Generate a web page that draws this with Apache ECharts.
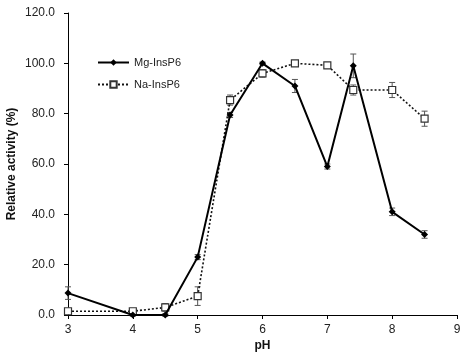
<!DOCTYPE html>
<html>
<head>
<meta charset="utf-8">
<script src="https://cdn.jsdelivr.net/npm/echarts@6/dist/echarts.min.js"></script>
<style>html,body{margin:0;padding:0;background:#fff}#c{width:474px;height:356px}</style>
</head>
<body>
<div id="c"></div>
<script>
var ph = [3, 4, 4.5, 5, 5.5, 6, 6.5, 7, 7.4, 8, 8.5];
var mgValues = [8.7, 0, 0, 23, 79.5, 100, 91, 59, 99, 41, 32];
var mgErrors = [2.5, 0.5, 0.5, 1, 1, 0.5, 2.6, 1, 4.7, 1.5, 1.5];
var naValues = [1.5, 1.5, 3, 7.5, 85.4, 96, 100, 99.2, 89.4, 89.4, 78];
var naErrors = [0.5, 0.5, 1.5, 3.7, 2, 1.5, 0.5, 0.5, 2, 3, 3];
var yTicks = [0, 20, 40, 60, 80, 100, 120];
var xTicks = [3, 4, 5, 6, 7, 8, 9];

var font = 'Liberation Sans, Arial, sans-serif';

function pairs(xs, ys) { return xs.map(function (x, i) { return [x, ys[i]]; }); }
function errData(xs, ys, es) { return xs.map(function (x, i) { return [x, ys[i] - es[i], ys[i] + es[i]]; }); }

function errRender(params, api) {
  var x = api.value(0);
  var lo = api.coord([x, api.value(1)]);
  var hi = api.coord([x, api.value(2)]);
  var w = 3;
  var st = { stroke: '#555', lineWidth: 1 };
  return {
    type: 'group',
    children: [
      { type: 'line', shape: { x1: lo[0], y1: lo[1], x2: hi[0], y2: hi[1] }, style: st },
      { type: 'line', shape: { x1: lo[0] - w, y1: lo[1], x2: lo[0] + w, y2: lo[1] }, style: st },
      { type: 'line', shape: { x1: hi[0] - w, y1: hi[1], x2: hi[0] + w, y2: hi[1] }, style: st }
    ]
  };
}

var chart = echarts.init(document.getElementById('c'));
chart.setOption({
  animation: false,
  backgroundColor: '#fff',
  grid: { left: 68, top: 13, right: 17, bottom: 41, containLabel: false, outerBoundsMode: 'none' },
  legend: {
    orient: 'vertical',
    left: 97,
    top: 57,
    padding: 0,
    itemWidth: 31,
    itemHeight: 8,
    itemGap: 11,
    textStyle: { fontFamily: font, fontSize: 11, color: '#222' },
    data: ['Mg-InsP6', 'Na-InsP6']
  },
  xAxis: {
    type: 'value', min: 3, max: 9, interval: 1,
    name: 'pH', nameLocation: 'middle', nameGap: 25, nameMoveOverlap: false,
    nameTextStyle: { fontFamily: font, fontSize: 12, fontWeight: 'bold', color: '#111' },
    axisLine: { lineStyle: { color: '#000', width: 1 } },
    axisTick: { show: true, length: 4, lineStyle: { color: '#000' } },
    axisLabel: { fontFamily: font, fontSize: 12, color: '#222', margin: 9,
      formatter: function (v) { return xTicks.indexOf(v) >= 0 ? String(v) : ''; } },
    splitLine: { show: false }
  },
  yAxis: {
    type: 'value', min: 0, max: 120, interval: 20,
    name: 'Relative activity (%)', nameLocation: 'middle', nameGap: 50, nameMoveOverlap: false,
    nameTextStyle: { fontFamily: font, fontSize: 12, fontWeight: 'bold', color: '#111' },
    axisLine: { show: true, lineStyle: { color: '#000', width: 1 } },
    axisTick: { show: true, length: 4, lineStyle: { color: '#000' } },
    axisLabel: { fontFamily: font, fontSize: 12, color: '#222', margin: 13,
      formatter: function (v) { return yTicks.indexOf(v) >= 0 ? v.toFixed(1) : ''; } },
    splitLine: { show: false }
  },
  series: [
    { type: 'custom', name: 'mgErr', renderItem: errRender, data: errData(ph, mgValues, mgErrors), z: 1, silent: true },
    { type: 'custom', name: 'naErr', renderItem: errRender, data: errData(ph, naValues, naErrors), z: 1, silent: true },
    {
      type: 'line', name: 'Na-InsP6', data: pairs(ph, naValues), z: 3,
      symbol: 'rect', symbolSize: 7,
      lineStyle: { color: '#111', width: 1.6, type: [2, 2] },
      itemStyle: { color: '#fff', borderColor: '#333', borderWidth: 1.2 }
    },
    {
      type: 'line', name: 'Mg-InsP6', data: pairs(ph, mgValues), z: 4,
      symbol: 'diamond', symbolSize: 7,
      lineStyle: { color: '#000', width: 2 },
      itemStyle: { color: '#000', borderColor: '#000', borderWidth: 0 }
    }
  ]
});
</script>
</body>
</html>
